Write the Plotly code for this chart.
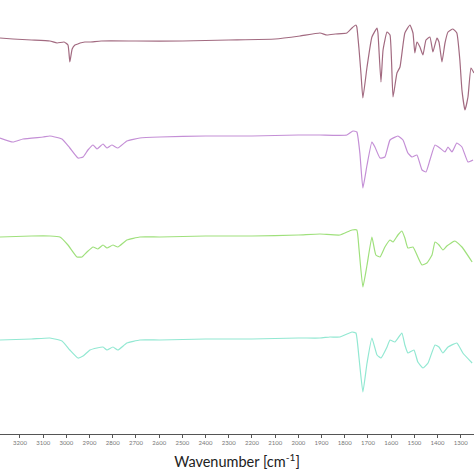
"""
FTIR — quatro espectros empilhados (número de onda × transmitância, u.a.)
"""
import plotly.graph_objects as go

# ── Paleta ────────────────────────────────────────────────────
_MALVA  = "#a26a80"
_VIOLETA = "#c48fd6"
_VERDE  = "#9fe07c"
_AQUA   = "#92e8d2"
_EIXO   = "#555555"

# ── Dados (intensidade em u.a., já deslocada) ─
wn_1 = [3286, 3230, 3150, 3071, 3040, 3010, 2993, 2985, 2975, 2963, 2950, 2941, 2920,
        2898, 2850, 2700, 2500, 2300, 2100, 1993, 1907, 1877, 1840, 1791, 1769, 1752,
        1748, 1739, 1730, 1722, 1704, 1683, 1661, 1657, 1644, 1635, 1618, 1605, 1592,
        1575, 1562, 1541, 1519, 1506, 1498, 1489, 1476, 1463, 1450, 1433, 1420, 1403,
        1394, 1381, 1368, 1355, 1334, 1317, 1304, 1295, 1282, 1269, 1256, 1243]
t_1  = [396, 395, 394, 393, 391, 392, 389, 372, 385, 389, 390, 391, 392,
        392, 393, 393, 393, 394, 395, 398, 401, 399, 400, 401, 406, 409,
        407, 386, 360, 336, 367, 397, 406, 401, 352, 384, 402, 399, 337,
        361, 367, 401, 409, 401, 381, 392, 387, 379, 394, 397, 382, 396,
        392, 372, 391, 402, 405, 401, 374, 344, 324, 337, 366, 361]

wn_2 = [3286, 3230, 3187, 3100, 3071, 3019, 2985, 2950, 2928, 2907, 2885, 2868, 2842,
        2825, 2804, 2778, 2739, 2683, 2597, 2400, 2200, 2000, 1907, 1791, 1765, 1748,
        1735, 1722, 1704, 1683, 1670, 1648, 1627, 1605, 1571, 1549, 1528, 1510, 1489,
        1467, 1450, 1433, 1411, 1390, 1368, 1355, 1338, 1317, 1295, 1269, 1247]
t_2  = [296, 292, 295, 297, 298, 295, 286, 276, 277, 284, 289, 285, 290,
        286, 289, 286, 293, 296, 297, 298, 298, 299, 299, 299, 303, 302,
        281, 246, 269, 292, 287, 276, 277, 294, 298, 294, 281, 277, 279,
        264, 262, 274, 289, 286, 282, 287, 282, 291, 287, 272, 274]

wn_3 = [3286, 3150, 3071, 3028, 2993, 2954, 2933, 2911, 2885, 2864, 2842, 2825, 2799,
        2778, 2739, 2683, 2597, 2400, 2200, 2000, 1907, 1821, 1769, 1748, 1739, 1722,
        1704, 1683, 1666, 1648, 1627, 1605, 1592, 1571, 1554, 1541, 1528, 1506, 1485,
        1467, 1446, 1424, 1411, 1394, 1377, 1360, 1325, 1295, 1251]
t_3  = [197, 198, 198, 197, 189, 177, 177, 182, 187, 185, 189, 186, 189,
        187, 194, 197, 197, 198, 198, 199, 200, 199, 204, 204, 186, 147,
        169, 197, 179, 177, 187, 194, 192, 199, 203, 196, 186, 187, 177,
        169, 171, 179, 192, 189, 184, 188, 193, 187, 172]

wn_4 = [3286, 3150, 3071, 3019, 2985, 2950, 2928, 2898, 2868, 2842, 2825, 2799, 2778,
        2739, 2683, 2597, 2400, 2200, 2000, 1907, 1864, 1821, 1769, 1752, 1739, 1722,
        1704, 1683, 1661, 1644, 1618, 1605, 1584, 1554, 1541, 1528, 1502, 1485, 1463,
        1441, 1411, 1394, 1377, 1355, 1317, 1291, 1251]
t_4  = [94, 95, 96, 93, 84, 76, 78, 84, 86, 87, 84, 87, 84,
        91, 94, 94, 95, 95, 96, 96, 97, 97, 102, 101, 77, 42,
        71, 96, 79, 76, 87, 94, 92, 101, 89, 81, 84, 72, 66,
        71, 89, 87, 81, 87, 91, 81, 71]

series = [
    ("Amostra 1", wn_1, t_1, _MALVA),
    ("Amostra 2", wn_2, t_2, _VIOLETA),
    ("Amostra 3", wn_3, t_3, _VERDE),
    ("Amostra 4", wn_4, t_4, _AQUA),
]

tick_vals = list(range(1300, 3300, 100))

fig = go.Figure()
for nome, x, y, cor in series:
    fig.add_trace(go.Scatter(
        name=nome, x=x, y=y, mode="lines",
        line=dict(color=cor, width=1.2, shape="spline", smoothing=0.4),
        hovertemplate="%{x} cm⁻¹<extra>" + nome + "</extra>",
    ))

fig.update_layout(
    width=474, height=474,
    paper_bgcolor="#ffffff",
    plot_bgcolor="#ffffff",
    margin=dict(l=0, r=0, t=0, b=40),
    showlegend=False,
    font=dict(family="Lato, sans-serif", color="#222222"),
    xaxis=dict(
        range=[3286, 1243],
        tickvals=tick_vals,
        ticktext=[str(v) for v in tick_vals],
        tickfont=dict(size=6, color="#777777"),
        ticks="outside", ticklen=3, tickcolor=_EIXO,
        showline=True, linecolor=_EIXO, linewidth=1.2,
        showgrid=False, zeroline=False,
        title=dict(text="Wavenumber [cm<sup>-1</sup>]",
                   font=dict(size=14.5, color="#222222"), standoff=11),
    ),
    yaxis=dict(range=[0, 434], visible=False, showgrid=False, zeroline=False),
)

# tira a margem padrão do <body> para a figura ocupar a janela inteira
fig.write_html("out.html", config={"displayModeBar": False},
               post_script="document.body.style.margin = '0';")
